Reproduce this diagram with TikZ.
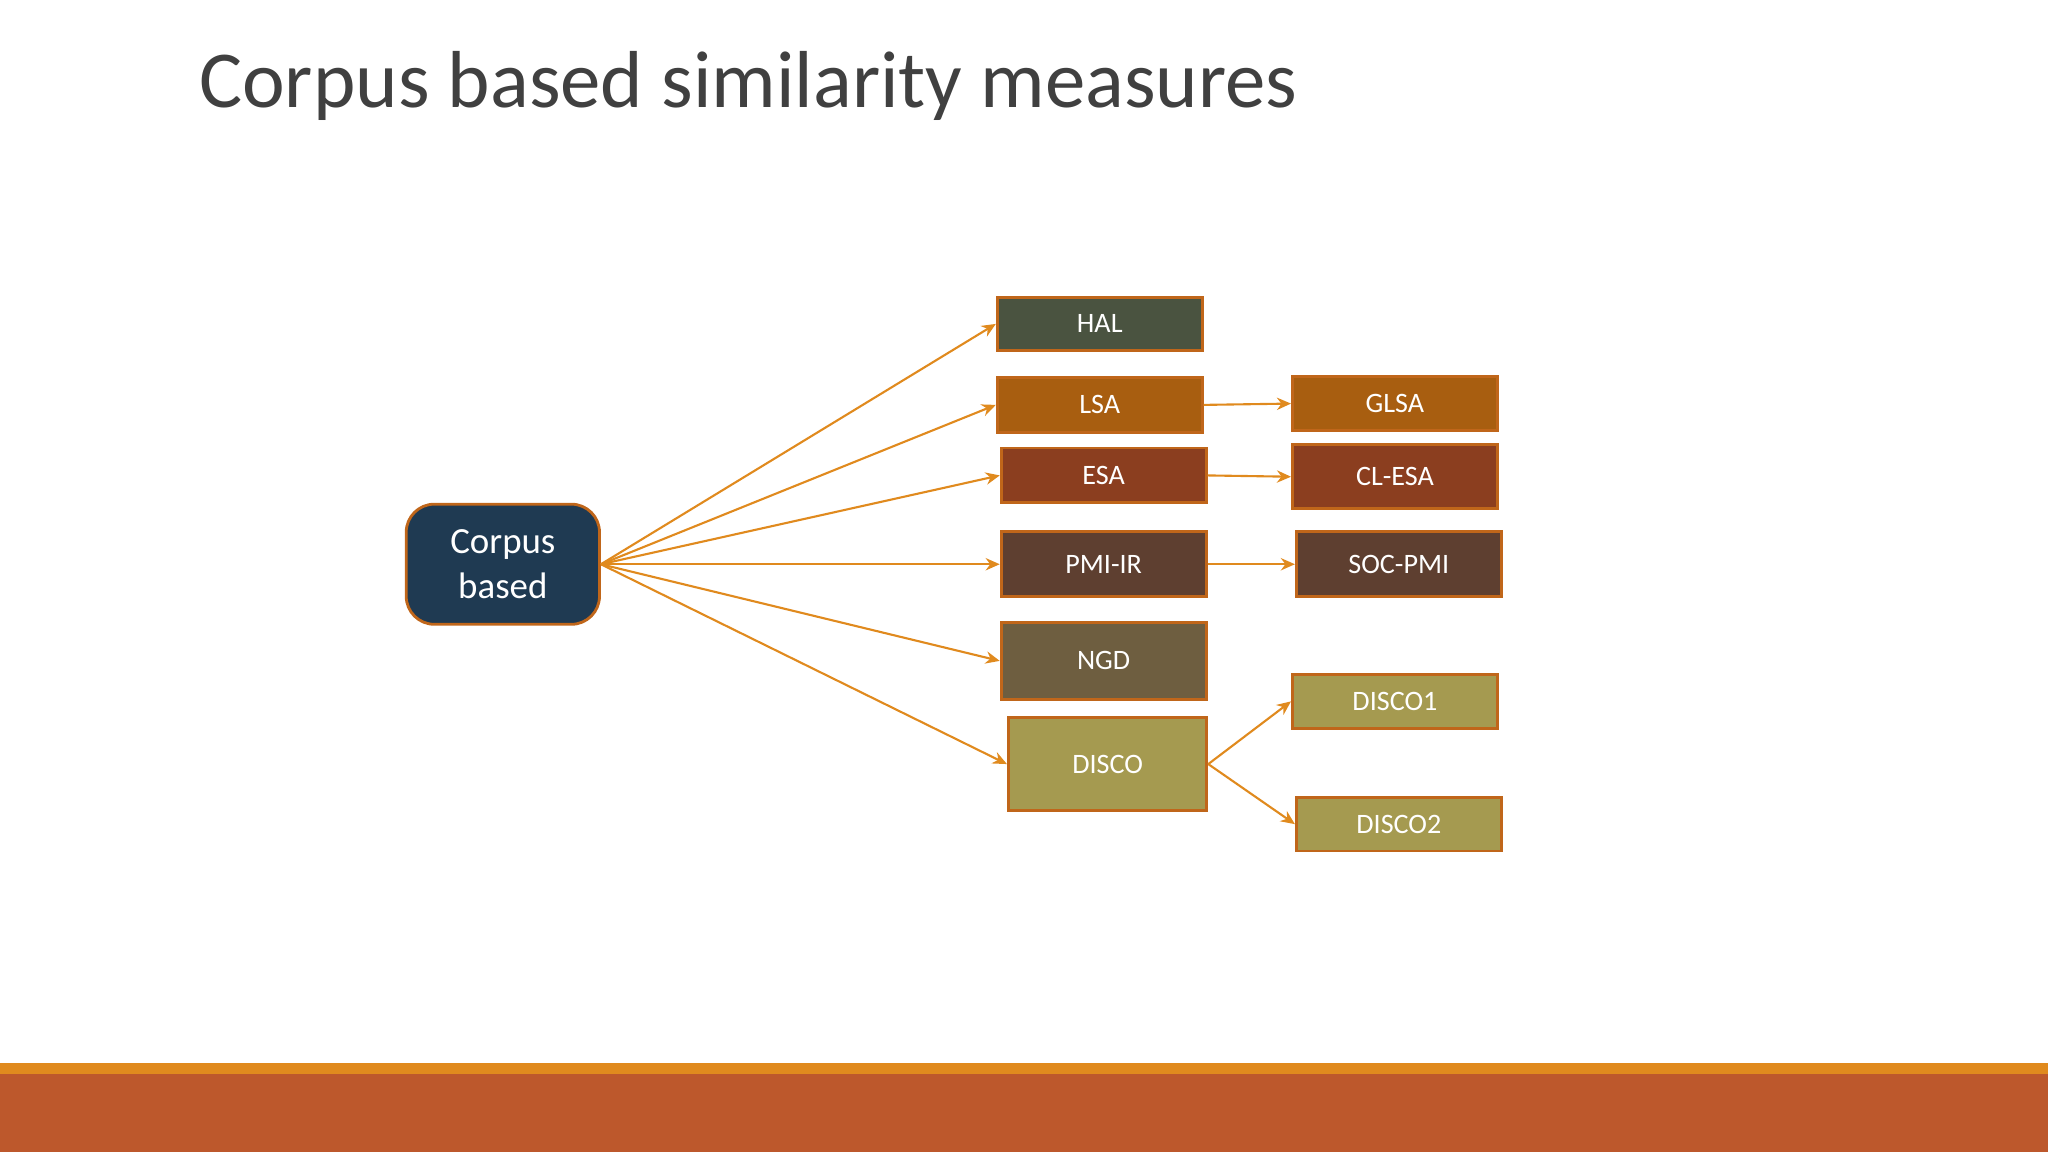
\documentclass[tikz,border=0pt]{standalone}
\usepackage{fontspec}
\setmainfont{Carlito}
\usetikzlibrary{arrows.meta}
\definecolor{rimc}{HTML}{C0661A}
\definecolor{arrc}{HTML}{E08A1E}
\definecolor{navyc}{HTML}{1F3A52}
\definecolor{halc}{HTML}{4A5340}
\definecolor{lsac}{HTML}{A85E10}
\definecolor{esac}{HTML}{8B3E1F}
\definecolor{pmic}{HTML}{5E3F30}
\definecolor{ngdc}{HTML}{6E5E40}
\definecolor{discoc}{HTML}{A59A50}
\definecolor{titlec}{HTML}{404040}
\definecolor{barc}{HTML}{BD582C}
\tikzset{
  box/.style={draw=rimc, line width=0.8pt, text=white, font=\fontsize{8}{9}\selectfont,
    minimum width=157\pxu, inner sep=0pt},
  link/.style={draw=arrc, line width=0.6pt, -{Stealth[length=4pt,width=3.5pt]}}
}
\newlength{\pxu}\setlength{\pxu}{0.013061cm}
\begin{document}
\begin{tikzpicture}[x=0.013061cm, y=-0.013061cm]
\useasboundingbox (0,0) rectangle (1568,882);
\fill[barc] (0,822) rectangle (1568,882);
\fill[arrc] (0,814) rectangle (1568,822);
\node[anchor=base west, text=titlec, font=\fontsize{23}{26}\selectfont, inner sep=0pt] (title) at (152,82) {Corpus based similarity measures};
% left column
\node[box, fill=navyc, rounded corners=8pt, minimum width=148\pxu, minimum height=92\pxu, align=center,
  font=\fontsize{10.5}{13}\selectfont] (corpus) at (385,432) {Corpus\\based};
\node[box, fill=halc, minimum height=41\pxu] (hal) at (842,248) {HAL};
\node[box, fill=lsac, minimum height=42\pxu] (lsa) at (842,310) {LSA};
\node[box, fill=esac, minimum height=42\pxu] (esa) at (845,364) {ESA};
\node[box, fill=pmic, minimum height=50\pxu] (pmi) at (845,432) {PMI-IR};
\node[box, fill=ngdc, minimum height=59\pxu] (ngd) at (845,506) {NGD};
\node[box, fill=discoc, minimum width=152\pxu, minimum height=71\pxu] (disco) at (848,585) {DISCO};
% right column
\node[box, fill=lsac, minimum height=41\pxu] (glsa) at (1068,309) {GLSA};
\node[box, fill=esac, minimum height=49\pxu] (clesa) at (1068,365) {CL-ESA};
\node[box, fill=pmic, minimum height=50\pxu] (socpmi) at (1071,432) {SOC-PMI};
\node[box, fill=discoc, minimum height=41\pxu] (disco1) at (1068,537) {DISCO1};
\node[box, fill=discoc, minimum height=41\pxu] (disco2) at (1071,631) {DISCO2};
\foreach \t in {hal,lsa,esa,pmi,ngd,disco}
  \draw[link] (corpus.east) -- (\t.west);
\draw[link] (lsa.east) -- (glsa.west);
\draw[link] (esa.east) -- (clesa.west);
\draw[link] (pmi.east) -- (socpmi.west);
\draw[link] (disco.east) -- (disco1.west);
\draw[link] (disco.east) -- (disco2.west);
\end{tikzpicture}
\end{document}
